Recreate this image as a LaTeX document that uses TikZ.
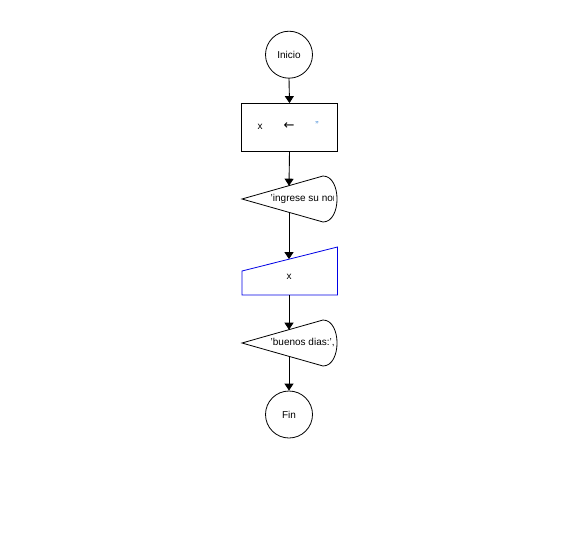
\documentclass[tikz,border=0pt]{standalone}
\usepackage{fontspec}
\setmainfont{Liberation Sans}
\newfontfamily\arrowfont{DejaVu Sans}
\usetikzlibrary{arrows.meta}
\definecolor{inblue}{RGB}{0,0,230}
\definecolor{strblue}{RGB}{70,140,215}
\tikzset{
  shapeline/.style={draw=black, line width=0.8pt},
  term/.style={shapeline, circle, minimum size=47pt, inner sep=0pt, font=\fontsize{10}{12}\selectfont},
  procbox/.style={shapeline, rectangle, minimum width=96pt, minimum height=48pt, inner sep=0pt},
  lbl/.style={font=\fontsize{10}{12}\selectfont, inner sep=0pt},
  flow/.style={draw=black, line width=0.9pt, -{Triangle[width=9pt,length=7pt]}},
}
\begin{document}
\begin{tikzpicture}[x=1pt,y=-1pt]
\useasboundingbox (0,0) rectangle (564,554);
\fill[white] (0,0) rectangle (564,554);
% Inicio
\node[term] (ini) at (289,54.7) {Inicio};
% assignment
\node[procbox] (asg) at (289.5,127.5) {};
\node[lbl] (ax) at (260,127) {x};
\node[lbl, font=\arrowfont\fontsize{13}{14}\selectfont] (aarr) at (289,126.5) {←};
\node[lbl, text=strblue] (astr) at (317,125) {''};
% display 1
\draw[shapeline] (242,199) -- (323,176) .. controls (341.7,176) and (341.7,222) .. (323,222) -- cycle;
\begin{scope}
\clip (242,176) rectangle (333,222);
\node[lbl, anchor=west] (d1t) at (270.5,199) {'ingrese su nombre'};
\end{scope}
\coordinate (d1top) at (289,185.7);
\coordinate (d1bot) at (289,212.3);
% input
\draw[draw=inblue, line width=0.8pt] (242,271) -- (337.5,247) -- (337.5,295) -- (242,295) -- cycle;
\node[lbl] (inx) at (289,277) {x};
\coordinate (intop) at (289,259.1);
\coordinate (inbot) at (289,295);
% display 2
\draw[shapeline] (242,343) -- (323,320) .. controls (341.7,320) and (341.7,366) .. (323,366) -- cycle;
\begin{scope}
\clip (242,320) rectangle (334.5,366);
\node[lbl, anchor=west] (d2t) at (270.5,343) {'buenos dias:', x};
\end{scope}
\coordinate (d2top) at (289,329.7);
\coordinate (d2bot) at (289,356.3);
% Fin
\node[term] (fin) at (289,414.5) {Fin};
% connectors
\draw[flow] (ini.south) -- (asg.north);
\draw[flow] (asg.south) -- (d1top);
\draw[flow] (d1bot) -- (intop);
\draw[flow] (inbot) -- (d2top);
\draw[flow] (d2bot) -- (fin.north);
\end{tikzpicture}
\end{document}
